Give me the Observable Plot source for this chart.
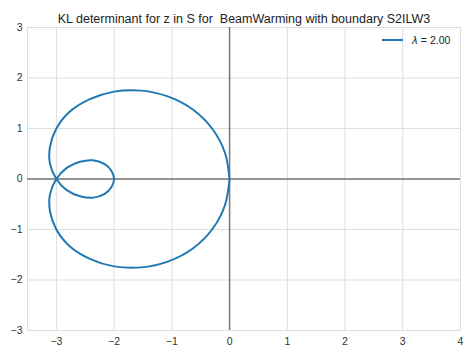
<!DOCTYPE html>
<html><head><meta charset="utf-8">
<script src="https://cdn.jsdelivr.net/npm/d3@7"></script>
<script src="https://cdn.jsdelivr.net/npm/@observablehq/plot@0.6"></script>
<style>
body{margin:0;background:#fff;}
#wrap{position:relative;width:474px;height:355px;font-family:"Liberation Sans",Arial,sans-serif;}
#wrap svg text{white-space:pre;}
#legend{position:absolute;left:382px;top:34px;font-size:10.5px;color:#222;display:flex;align-items:center;}
#legend .sw{width:21px;height:2px;background:#1f77b4;margin-right:9px;}
#legend i{font-family:"DejaVu Sans",sans-serif;font-size:10px;}
</style></head><body><div id="wrap"></div>
<script>
const titleText = "KL determinant for z in S for  BeamWarming with boundary S2ILW3";
const lambdaLabel = "2.00";
const xs = [0, -0.08, -0.29, -0.63, -1.06, -1.53, -2.00, -2.42, -2.77, -3.00, -3.11, -3.11, -3.00, -2.82, -2.59, -2.37, -2.17, -2.05, -2.00, -2.05, -2.17, -2.37, -2.59, -2.82, -3.00, -3.11, -3.11, -3.00, -2.77, -2.42, -2.00, -1.53, -1.06, -0.63, -0.29, -0.08, 0];
const ys = [0, 0.52, 0.98, 1.37, 1.63, 1.75, 1.73, 1.58, 1.33, 1.00, 0.64, 0.30, 0, -0.22, -0.34, -0.37, -0.30, -0.17, 0, 0.17, 0.30, 0.37, 0.34, 0.22, 0, -0.30, -0.64, -1.00, -1.33, -1.58, -1.73, -1.75, -1.63, -1.37, -0.98, -0.52, 0];
const xTicks = [-3, -2, -1, 0, 1, 2, 3, 4];
const yTicks = [-3, -2, -1, 0, 1, 2, 3];
const xDomain = [-3.5, 4];
const yDomain = [-3, 3];

const points = xs.map((x, i) => ({x, y: ys[i]}));
const fmt = d => d < 0 ? "\u2212" + Math.abs(d) : String(d);

const chart = Plot.plot({
  width: 474, height: 355,
  marginLeft: 27, marginRight: 14, marginTop: 27, marginBottom: 25,
  x: {domain: xDomain, ticks: xTicks, tickSize: 0, tickPadding: 7, tickFormat: fmt, label: null},
  y: {domain: yDomain, ticks: yTicks, tickSize: 0, tickPadding: 5, tickFormat: fmt, label: null},
  style: {fontFamily: "'Liberation Sans', Arial, sans-serif", fontSize: "10.5px", color: "#333", background: "#fff"},
  marks: [
    Plot.gridX(xTicks, {stroke: "#dddddd", strokeOpacity: 1, strokeWidth: 1}),
    Plot.gridY(yTicks, {stroke: "#dddddd", strokeOpacity: 1, strokeWidth: 1}),
    Plot.frame({stroke: "#dddddd"}),
    Plot.ruleX([0], {stroke: "#777", strokeWidth: 1.5}),
    Plot.ruleY([0], {stroke: "#777", strokeWidth: 1.5}),
    Plot.line(points, {x: "x", y: "y", curve: "catmull-rom", stroke: "#1f77b4", strokeWidth: 2}),
    Plot.text([titleText], {frameAnchor: "top", dy: -13, fontSize: 12.5, fill: "#222"})
  ]
});
const wrap = document.getElementById("wrap");
wrap.appendChild(chart);
const leg = document.createElement("div");
leg.id = "legend";
leg.innerHTML = '<span class="sw"></span><span><i>λ</i> = ' + lambdaLabel + '</span>';
wrap.appendChild(leg);
</script>
</body></html>
